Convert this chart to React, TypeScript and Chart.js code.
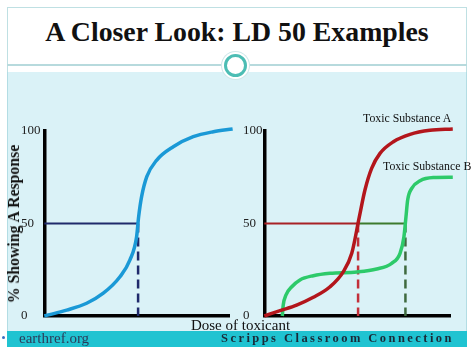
import { useEffect, useRef } from 'react';
import { Chart, registerables } from 'chart.js';

Chart.register(...registerables);

// ---- data (dose in arbitrary units, response in %) ----
const Y_TICKS = [0, 50, 100];

const LEFT_DOSE = [0, 1.21, 2.29, 3.19, 4.09, 4.63, 4.99, 5.1, 5.26, 5.54, 6.08, 6.97, 8.05, 9.14, 10.18];
const LEFT_RESPONSE = [0, 3.2, 6.9, 12.3, 21.2, 30.3, 42.9, 53.7, 64.5, 75.3, 84.3, 91.5, 96.9, 99.6, 101.1];
const LEFT_LD50 = 5.07;

const A_DOSE = [0, 0.85, 1.74, 2.64, 3.54, 4.25, 4.71, 5.12, 5.42, 5.78, 6.23, 6.95, 7.85, 8.92, 10.15];
const A_RESPONSE = [0, 2.9, 5.9, 10.1, 15.8, 23.9, 33.9, 53.7, 68.1, 79.8, 87.9, 94.2, 98.2, 100.4, 101.1];
const A_LD50 = 5.05;

const B_DOSE = [0.97, 1.02, 1.17, 1.48, 1.92, 2.64, 3.54, 4.98, 6.05, 6.86, 7.31, 7.52, 7.63, 7.72, 7.94, 8.39, 9.1, 10.15];
const B_RESPONSE = [0, 5.9, 11.4, 15.8, 19.5, 21.8, 23.1, 23.8, 25.4, 28.5, 33.9, 42.9, 53.7, 62.7, 69, 73.1, 74.8, 75];
const B_LD50 = 7.6;

const pts = (xs: number[], ys: number[]) => xs.map((x, i) => ({ x, y: ys[i] }));

const SERIF = '"Liberation Serif", "DejaVu Serif", serif';

function curve(xs: number[], ys: number[], color: string) {
  return {
    data: pts(xs, ys),
    borderColor: color,
    borderWidth: 3.5,
    cubicInterpolationMode: 'monotone' as const,
    clip: false as const,
  };
}
function hline(x0: number, x1: number, color: string) {
  return {
    data: [{ x: x0, y: 50 }, { x: x1, y: 50 }],
    borderColor: color,
    borderWidth: 2,
    tension: 0,
    clip: false as const,
  };
}
function vdash(x: number, color: string) {
  return {
    data: [{ x, y: 50 }, { x, y: 0 }],
    borderColor: color,
    borderWidth: 2.5,
    borderDash: [9, 5],
    tension: 0,
    clip: false as const,
  };
}

function makeChart(canvas: HTMLCanvasElement, datasets: any[], pad: any, yWidth: number) {
  return new Chart(canvas, {
    type: 'line',
    data: { datasets },
    options: {
      responsive: false,
      animation: false,
      layout: { padding: pad },
      plugins: { legend: { display: false }, tooltip: { enabled: false } },
      elements: { point: { radius: 0 } },
      scales: {
        x: {
          type: 'linear',
          min: 0,
          max: 10,
          grid: { display: false, drawTicks: false },
          ticks: { display: false },
          border: { display: true, color: '#000', width: 3.5 },
          afterFit: (s: any) => {
            s.height = 0;
          },
        },
        y: {
          type: 'linear',
          min: 0,
          max: 100,
          afterBuildTicks: (s: any) => {
            s.ticks = Y_TICKS.map((v) => ({ value: v }));
          },
          ticks: {
            crossAlign: 'far',
            padding: 0,
            color: '#222',
            font: { family: SERIF, size: 13 },
          },
          grid: { display: false, drawTicks: false },
          border: { display: true, color: '#000', width: 3.5 },
          afterFit: (s: any) => {
            s.width = yWidth;
          },
        },
      },
    } as any,
  });
}

export default function App() {
  const leftRef = useRef<HTMLCanvasElement>(null);
  const rightRef = useRef<HTMLCanvasElement>(null);

  useEffect(() => {
    const left = makeChart(
      leftRef.current!,
      [
        curve(LEFT_DOSE, LEFT_RESPONSE, '#1a99d6'),
        hline(0, LEFT_LD50, '#1f2a6b'),
        vdash(LEFT_LD50, '#1f2a6b'),
      ],
      { left: 21, top: 21, right: 20.7, bottom: 19 },
      23.3
    );
    const right = makeChart(
      rightRef.current!,
      [
        curve(A_DOSE, A_RESPONSE, '#b3161c'),
        curve(B_DOSE, B_RESPONSE, '#2dca6a'),
        hline(0, A_LD50, '#a82226'),
        hline(A_LD50, B_LD50, '#3c7a2e'),
        vdash(A_LD50, '#c2303a'),
        vdash(B_LD50, '#3f6a3f'),
      ],
      { left: 3, top: 21, right: 24, bottom: 19 },
      21.3
    );
    return () => {
      left.destroy();
      right.destroy();
    };
  }, []);

  const abs = (s: any) => ({ position: 'absolute' as const, ...s });

  return (
    <div style={abs({ left: 0, top: 0, width: 474, height: 355, background: '#fff', overflow: 'hidden', fontFamily: SERIF })}>
      {/* slide frame */}
      <div style={abs({ left: 7, top: 7, width: 458, height: 338, border: '1px solid #bfe0e3', background: '#fff' })} />
      <div style={abs({ left: 8, top: 72, width: 458, height: 259, background: '#daf2f7' })} />
      <div style={abs({ left: 7, top: 64, width: 460, height: 2, background: '#b7dadd' })} />
      <div style={abs({ left: 7, top: 72, width: 1, height: 259, background: '#b3dde4' })} />
      <div style={abs({ left: 466, top: 72, width: 1, height: 259, background: '#b3dde4' })} />
      <div
        style={abs({
          left: 224,
          top: 54,
          width: 17,
          height: 17,
          borderRadius: '50%',
          border: '3px solid #4cbdb4',
          background: '#fff',
          boxShadow: '0 0 0 2px #fff, 0 0 0 3px #cfe8ea',
        })}
      />
      <div
        style={abs({
          left: 0,
          top: 15,
          width: 474,
          textAlign: 'center',
          fontWeight: 'bold',
          fontSize: 27.8,
          lineHeight: '34px',
          color: '#111',
        })}
      >
        A Closer Look: LD 50 Examples
      </div>

      {/* charts */}
      <canvas ref={leftRef} width={250} height={225} style={abs({ left: 0, top: 110 })} />
      <canvas ref={rightRef} width={234} height={225} style={abs({ left: 240, top: 110 })} />

      {/* axis / series labels */}
      <div
        style={abs({
          left: 14,
          top: 224,
          transform: 'translate(-50%, -50%) rotate(-90deg)',
          whiteSpace: 'nowrap',
          fontWeight: 'bold',
          fontSize: 15.8,
          color: '#111',
        })}
      >
        % Showing A Response
      </div>
      <div style={abs({ left: 363, top: 111, fontSize: 11.8, whiteSpace: 'nowrap', color: '#111' })}>Toxic Substance A</div>
      <div style={abs({ left: 383, top: 159, fontSize: 11.8, whiteSpace: 'nowrap', color: '#111' })}>Toxic Substance B</div>

      {/* bottom bar */}
      <div style={abs({ left: 7, top: 331, width: 460, height: 16, background: '#20c3d1' })} />
      <div style={abs({ left: 2, top: 336, width: 3, height: 3, borderRadius: '50%', background: '#3a6fc0' })} />
      <div style={abs({ left: 19, top: 329, fontSize: 15, lineHeight: '18px', color: '#2b3c5a', whiteSpace: 'nowrap' })}>earthref.org</div>
      <div
        style={abs({
          left: 221,
          top: 331,
          fontSize: 12.5,
          lineHeight: '15px',
          fontWeight: 'bold',
          letterSpacing: 2.45,
          color: '#1b2a38',
          whiteSpace: 'nowrap',
        })}
      >
        Scripps Classroom Connection
      </div>
      <div
        style={abs({
          left: 240.5,
          top: 316,
          transform: 'translateX(-50%)',
          fontSize: 15,
          lineHeight: '18px',
          color: '#111',
          whiteSpace: 'nowrap',
        })}
      >
        Dose of toxicant
      </div>
    </div>
  );
}
